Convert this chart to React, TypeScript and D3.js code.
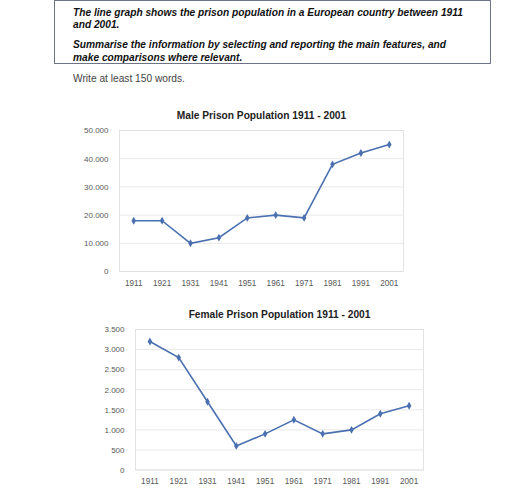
import React from "react";
import * as d3 from "d3";

const years = ["1911", "1921", "1931", "1941", "1951", "1961", "1971", "1981", "1991", "2001"];
const maleValues = [18000, 18000, 10000, 12000, 19000, 20000, 19000, 38000, 42000, 45000];
const femaleValues = [3200, 2800, 1700, 600, 900, 1250, 900, 1000, 1400, 1600];
const maleTicks = [0, 10000, 20000, 30000, 40000, 50000];
const femaleTicks = [0, 500, 1000, 1500, 2000, 2500, 3000, 3500];

const taskLines = [
  "The line graph shows the prison population in a European country between 1911",
  "and 2001.",
];
const taskLines2 = [
  "Summarise the information by selecting and reporting the main features, and",
  "make comparisons where relevant.",
];

const FONT = "'Liberation Sans', Arial, sans-serif";
const LINE = "#4a70b0";

// European style thousands separator: 50.000
const fmt = (v: number) => d3.format(",")(v).replace(/,/g, ".");

type ChartProps = {
  title: string;
  values: number[];
  ticks: number[];
  left: number;
  right: number;
  top: number;
  bottom: number;
  titleY: number;
};

const LineChart = ({ title, values, ticks, left, right, top, bottom, titleY }: ChartProps) => {
  const x = d3.scalePoint<string>().domain(years).range([left, right]).padding(0.5);
  const y = d3
    .scaleLinear()
    .domain([0, ticks[ticks.length - 1]])
    .range([bottom, top]);
  const line = d3
    .line<number>()
    .x((_, i) => x(years[i]) as number)
    .y((d) => y(d));
  const diamond = d3.symbol(d3.symbolDiamond, 18)() as string;

  return (
    <g fontFamily={FONT}>
      <text
        x={(left + right) / 2}
        y={titleY}
        textAnchor="middle"
        fontSize={10.2}
        fontWeight="bold"
        fill="#222"
      >
        {title}
      </text>
      {ticks.map((t) => (
        <g key={t}>
          <line x1={left} x2={right} y1={y(t)} y2={y(t)} stroke="#e3e3e3" strokeWidth={0.8} />
          <text x={left - 11} y={y(t) + 2.8} textAnchor="end" fontSize={8} fill="#595959">
            {fmt(t)}
          </text>
        </g>
      ))}
      <rect
        x={left}
        y={top}
        width={right - left}
        height={bottom - top}
        fill="none"
        stroke="#dcdcdc"
        strokeWidth={0.8}
      />
      {years.map((yr) => (
        <text
          key={yr}
          x={x(yr)}
          y={bottom + 14}
          textAnchor="middle"
          fontSize={8.2}
          fill="#595959"
        >
          {yr}
        </text>
      ))}
      <path d={line(values) as string} fill="none" stroke={LINE} strokeWidth={1.6} />
      {values.map((v, i) => (
        <path
          key={i}
          d={diamond}
          transform={`translate(${x(years[i])},${y(v)})`}
          fill={LINE}
        />
      ))}
    </g>
  );
};

export default function App() {
  return (
    <svg
      width={512}
      height={497}
      style={{ position: "absolute", left: 0, top: 0, background: "#fff" }}
    >
      <rect x={54.5} y={0.5} width={436} height={63} fill="none" stroke="#6e7388" strokeWidth={1} />
      <g fontFamily={FONT} fontSize={10.2} fontWeight="bold" fontStyle="italic" fill="#111">
        {taskLines.map((t, i) => (
          <text key={t} x={73} y={15.5 + i * 12.2}>
            {t}
          </text>
        ))}
        {taskLines2.map((t, i) => (
          <text key={t} x={73} y={47.5 + i * 13}>
            {t}
          </text>
        ))}
      </g>
      <text x={73} y={82} fontFamily={FONT} fontSize={10.2} fill="#444">
        Write at least 150 words.
      </text>
      <LineChart
        title="Male Prison Population 1911 - 2001"
        values={maleValues}
        ticks={maleTicks}
        left={119.5}
        right={403.5}
        top={130.5}
        bottom={271.5}
        titleY={118.5}
      />
      <LineChart
        title="Female Prison Population 1911 - 2001"
        values={femaleValues}
        ticks={femaleTicks}
        left={135.5}
        right={423.5}
        top={329.5}
        bottom={470}
        titleY={317.5}
      />
    </svg>
  );
}
